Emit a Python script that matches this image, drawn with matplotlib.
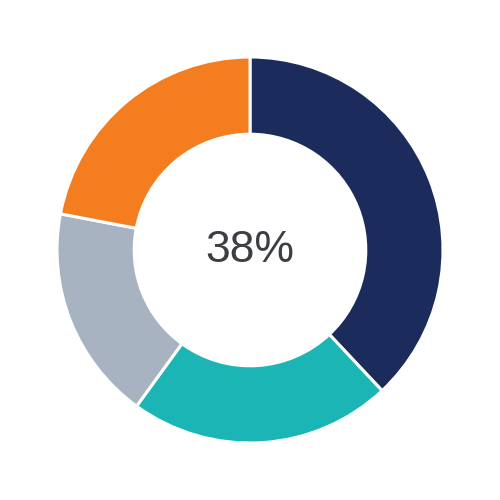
import matplotlib
matplotlib.use("Agg")
from matplotlib import pyplot as plt

labels = ['A', 'B', 'C', 'D']
values = [38, 22, 18, 22]
colors = ['#1b2b5b', '#1bb5b6', '#a8b3c2', '#f47d20']
center_label = '38%'

fig = plt.figure(figsize=(5, 5), dpi=100)
ax = fig.add_axes([0, 0, 1, 1])

ax.pie(values, colors=colors, startangle=90, counterclock=False,
       radius=1.0,
       wedgeprops=dict(width=0.40, edgecolor='white', linewidth=2.2))
ax.text(0, 0, center_label, ha='center', va='center', fontsize=32,
        family=['Liberation Sans', 'DejaVu Sans'], color='#3b3f44')

lim = 250 / 193
ax.set_xlim(-lim, lim)
ax.set_ylim(-lim, lim)
ax.set_aspect('equal')
ax.axis('off')

plt.savefig('out.png', dpi=100, facecolor='white')
